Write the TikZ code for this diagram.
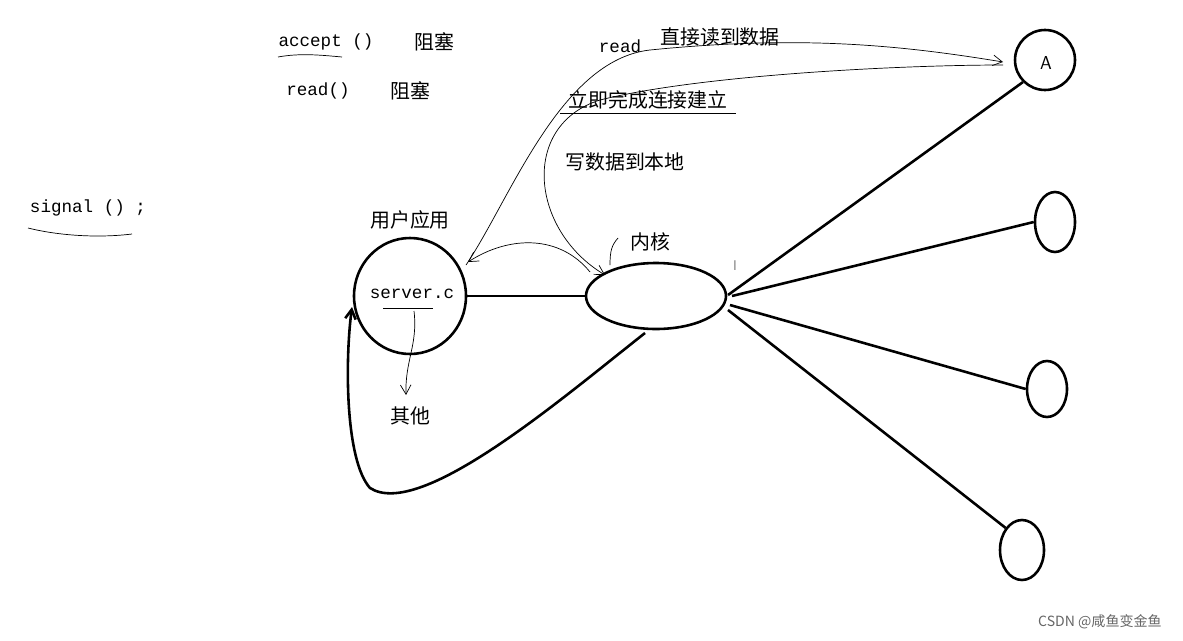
\documentclass[tikz,border=0pt]{standalone}
\usepackage{fontspec}
\setmainfont{Noto Sans CJK SC}
\newfontfamily\cjk{Noto Sans CJK SC}
\setmonofont{Liberation Mono}
\usetikzlibrary{arrows.meta,shapes.geometric}
\begin{document}
\begin{tikzpicture}[x=0.03cm,y=-0.03cm,
  lbl/.style={font=\cjk\fontsize{17}{20}\selectfont, inner sep=0},
  code/.style={font=\ttfamily\fontsize{15}{18}\selectfont, inner sep=0},
  thick line/.style={line width=2.2pt},
  thin line/.style={line width=0.6pt},
  tip/.style={-{Straight Barb[length=8pt,width=9pt]}}]
\useasboundingbox (0,0) rectangle (1183,640);
% texts
\node[code] (acc) at (326,42) {accept ()};
\node[lbl] (b1) at (434,42) {阻塞};
\node[code] (rd) at (318,91) {read()};
\node[lbl] (b2) at (410,91) {阻塞};
\node[code] (sig) at (88,208) {signal () ;};
\draw[thin line] (278,57) .. controls (300,53) and (320,55) .. (342,57);
\draw[thin line] (28,228) .. controls (60,236) and (100,238) .. (132,234);
\node[lbl] (app) at (410,220) {用户应用};
% server
\node[draw, thick line, ellipse, minimum width=112*0.03cm, minimum height=116*0.03cm, inner sep=0] (srv) at (410,296) {};
\node[code] (srvt) at (412,294) {server.c};
\draw[thin line] (383,308) -- (433,308);
\node[lbl] (oth) at (410,416) {其他};
\draw[thin line, tip] (414,311) .. controls (418,345) and (405,360) .. (406,395);
% kernel
\node[draw, thick line, ellipse, minimum width=140*0.03cm, minimum height=66*0.03cm, inner sep=0] (ker) at (656,296) {};
\node[lbl] (kt) at (650,242) {内核};
\draw[thick line] (srv.east) -- (ker.west);
% clients
\node[draw, thick line, circle, minimum size=60*0.03cm, inner sep=0] (cA) at (1045,60) {};
\node[font=\sffamily\fontsize{16}{18}\selectfont] at (1046,63) {A};
\node[draw, thick line, ellipse, minimum width=40*0.03cm, minimum height=60*0.03cm, inner sep=0] (c2) at (1055,222) {};
\node[draw, thick line, ellipse, minimum width=40*0.03cm, minimum height=56*0.03cm, inner sep=0] (c3) at (1047,389) {};
\node[draw, thick line, ellipse, minimum width=44*0.03cm, minimum height=60*0.03cm, inner sep=0] (c4) at (1022,550) {};
\coordinate (k1) at (728,295);
\coordinate (k2) at (732,296);
\coordinate (k3) at (730,305);
\coordinate (k4) at (728,310);
\draw[thick line] (k1) -- (cA.south west);
\draw[thick line] (k2) -- (c2.west);
\draw[thick line] (k3) -- (c3.west);
\draw[thick line] (k4) -- (c4.north west);
% loop back
\coordinate (lb) at (645,333);
\coordinate (le) at (352,307);
\draw[thick line, tip] (lb) .. controls (560,400) and (420,520) .. (370,488) .. controls (345,460) and (345,360) .. (le);
% thin curves
\node[code] (rdl) at (620,46) {read};
\node[lbl] (dr) at (720,37) {直接读到数据};
\node[lbl] (lj) at (648,100) {立即完成连接建立};
\draw[thin line] (560,113) -- (736,113);
\node[lbl] (xs) at (625,162) {写数据到本地};
\coordinate (a1) at (1003,62);
\coordinate (a2) at (1003,65);
\coordinate (s1) at (466,265);
\draw[thin line, tip] (s1) .. controls (510,200) and (560,60) .. (650,50) .. controls (800,35) and (900,45) .. (a1);
\draw[thin line, tip] (a2) .. controls (900,65) and (700,75) .. (600,100) .. controls (520,125) and (530,230) .. (605,275);
\draw[thin line, tip] (590,272) .. controls (560,235) and (510,235) .. (468,262);
\draw[thin line] (610,265) .. controls (610,250) and (612,245) .. (618,238);
\node[font=\sffamily\fontsize{12}{14}\selectfont, text=gray] (cur) at (735,266) {I};
\node[font=\cjk\fontsize{12}{14}\selectfont, text=gray!80!black, inner sep=0] (wm) at (1100,622) {CSDN @咸鱼变金鱼};
\end{tikzpicture}
\end{document}
